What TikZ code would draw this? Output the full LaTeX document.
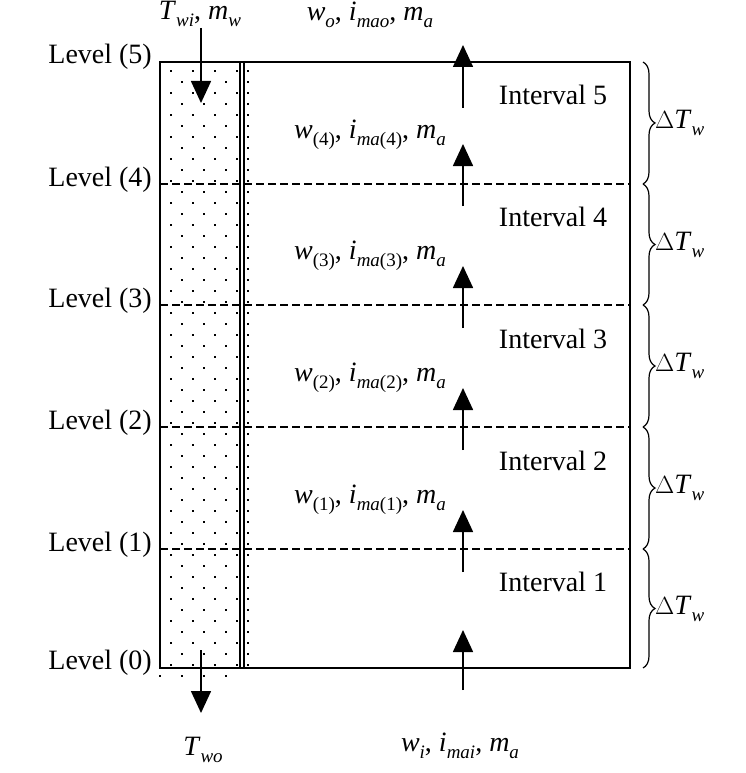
\documentclass[tikz,border=0pt]{standalone}
\usepackage{fontspec}
\setmainfont{Liberation Serif}
\usetikzlibrary{arrows.meta, positioning, decorations.pathreplacing}
\tikzset{
  lbl/.style={font=\fontsize{28}{32}\selectfont, inner sep=1pt},
  flow/.style={line width=1.6pt, -{Triangle[length=22pt, width=20pt]}},
  lvl/.style={dashed, line width=1.2pt, dash pattern=on 8pt off 4pt},
}
\newcommand{\tx}[1]{\textit{#1}}
\newcommand{\sub}[1]{\raisebox{-0.25em}{\fontsize{19}{20}\selectfont #1}}
\begin{document}
\begin{tikzpicture}[x=1pt, y=-1pt]
    \useasboundingbox (0,0) rectangle (745,773);
    % Dotted water column
    \foreach \y in {70,92,...,664} { \foreach \x in {170,192,214,236} {
        \fill (\x, \y) rectangle +(2.4,2.4);
        \fill (\x-11, \y+11) rectangle +(2.4,2.4);
    }}
    \foreach \y in {70,81,...,664} { \fill (247,\y) rectangle +(2.4,2.4); }
    % Levels
    \foreach \k/\y in {1/549,2/427,3/305,4/184} {
        \draw[lvl] (160,\y) -- (630,\y);
    }
    % Outer box
    \draw[line width=1.6pt] (160,62) rectangle (630,668);
    \draw[line width=1.6pt] (240,62) -- (240,668);
    \draw[line width=1.2pt] (244,62) -- (244,668);
    % Level labels
    \foreach \k/\y in {0/663,1/545,2/423,3/301,4/180,5/57} {
        \node[lbl, anchor=east] (lv\k) at (153,\y) {Level (\k)};
    }
    % Interval labels
    \foreach \k/\y in {1/582,2/461,3/339,4/217,5/95} {
        \node[lbl] (iv\k) at (553,\y) {Interval \k};
    }
    % Braces
    \foreach \k/\a/\b in {1/549/668,2/427/549,3/305/427,4/184/305,5/62/184} {
        \draw[line width=1.2pt, decorate, decoration={brace, amplitude=12pt}]
            (643,\a) -- (643,\b) coordinate[midway] (br\k);
        \node[lbl, anchor=west] (dt\k) at ([xshift=11pt]br\k) {$\Delta$\tx{T}\sub{\tx{w}}};
    }
    % Air flow arrows
    \foreach \k/\a/\b in {0/690/630,1/572/510,2/450/388,3/328/266,4/206/144,5/108/45} {
        \coordinate (a\k) at (463,\a);
        \coordinate (b\k) at (463,\b);
        \draw[flow] (a\k) -- (b\k);
    }
    % Air state labels
    \foreach \k/\y in {1/500,2/378,3/256,4/135} {
        \node[lbl] (st\k) at (370,\y) {\tx{w}\sub{(\k)}, \tx{i}\sub{\tx{ma}(\k)}, \tx{m}\sub{\tx{a}}};
    }
    \node[lbl] (stin) at (460,746) {\tx{w}\sub{\tx{i}}, \tx{i}\sub{\tx{mai}}, \tx{m}\sub{\tx{a}}};
    \node[lbl] (stout) at (370,15) {\tx{w}\sub{\tx{o}}, \tx{i}\sub{\tx{mao}}, \tx{m}\sub{\tx{a}}};
    % Water flow
    \node[lbl] (win) at (200,14) {\tx{T}\sub{\tx{wi}}, \tx{m}\sub{\tx{w}}};
    \node[lbl] (wout) at (203,750) {\tx{T}\sub{\tx{wo}}};
    \coordinate (w1) at (201,103);
    \coordinate (w2) at (201,650);
    \coordinate (w3) at (201,713);
    \draw[flow] (win.south -| w1) -- (w1);
    \draw[flow] (w2) -- (w3);
\end{tikzpicture}
\end{document}
